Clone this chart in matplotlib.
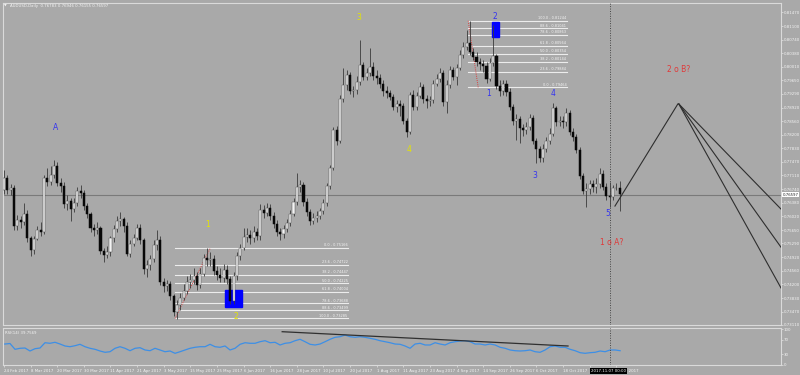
import numpy as np
import matplotlib.pyplot as plt
import matplotlib.transforms as mtransforms
from matplotlib.patches import Rectangle

# daily AUDUSD candles, 24 Feb 2017 .. 10 Nov 2017
first_open = 0.7672
closes = [
    0.7704, 0.7672, 0.7677, 0.7576, 0.7592, 0.7586, 0.7608, 0.7544, 0.7511, 0.7541,
    0.7565, 0.7560, 0.7704, 0.7693, 0.7712, 0.7736, 0.7691, 0.7683, 0.7634, 0.7642,
    0.7621, 0.7637, 0.7669, 0.7664, 0.7629, 0.7608, 0.7570, 0.7565, 0.7570, 0.7509,
    0.7498, 0.7506, 0.7544, 0.7568, 0.7589, 0.7594, 0.7576, 0.7501, 0.7528, 0.7544,
    0.7570, 0.7538, 0.7461, 0.7471, 0.7487, 0.7525, 0.7538, 0.7426, 0.7415, 0.7421,
    0.7389, 0.7346, 0.7364, 0.7383, 0.7402, 0.7426, 0.7431, 0.7442, 0.7418, 0.7447,
    0.7490, 0.7485, 0.7487, 0.7455, 0.7445, 0.7437, 0.7458, 0.7434, 0.7375, 0.7442,
    0.7495, 0.7517, 0.7546, 0.7552, 0.7544, 0.7560, 0.7549, 0.7618, 0.7610, 0.7624,
    0.7602, 0.7581, 0.7560, 0.7554, 0.7568, 0.7584, 0.7608, 0.7640, 0.7680, 0.7685,
    0.7640, 0.7613, 0.7589, 0.7597, 0.7602, 0.7616, 0.7637, 0.7683, 0.7731, 0.7832,
    0.7803, 0.7915, 0.7953, 0.7979, 0.7936, 0.7939, 0.7960, 0.8006, 0.7974, 0.7985,
    0.8001, 0.7977, 0.7971, 0.7955, 0.7936, 0.7931, 0.7920, 0.7894, 0.7902, 0.7896,
    0.7856, 0.7827, 0.7926, 0.7894, 0.7923, 0.7947, 0.7915, 0.7910, 0.7912, 0.7955,
    0.7969, 0.7985, 0.7907, 0.7953, 0.7993, 0.7974, 0.7998, 0.8033, 0.8054, 0.8065,
    0.8041, 0.8027, 0.8014, 0.8009, 0.8003, 0.7969, 0.8011, 0.8030, 0.7950, 0.7936,
    0.7955, 0.7934, 0.7894, 0.7856, 0.7862, 0.7838, 0.7832, 0.7840, 0.7864, 0.7803,
    0.7781, 0.7757, 0.7781, 0.7803, 0.7822, 0.7891, 0.7854, 0.7856, 0.7854, 0.7878,
    0.7827, 0.7814, 0.7779, 0.7709, 0.7669, 0.7674, 0.7688, 0.7680, 0.7688, 0.7715,
    0.7680, 0.7656, 0.7653, 0.7677, 0.7678, 0.7660,
]
highs = [
    0.7725, 0.7712, 0.7688, 0.7685, 0.7605, 0.7602, 0.7637, 0.7618, 0.7549, 0.7549,
    0.7576, 0.7586, 0.7712, 0.7730, 0.7736, 0.7752, 0.7747, 0.7704, 0.7693, 0.7658,
    0.7650, 0.7650, 0.7680, 0.7685, 0.7672, 0.7637, 0.7613, 0.7581, 0.7586, 0.7576,
    0.7517, 0.7522, 0.7549, 0.7578, 0.7602, 0.7613, 0.7600, 0.7586, 0.7538, 0.7554,
    0.7581, 0.7581, 0.7544, 0.7485, 0.7498, 0.7538, 0.7565, 0.7549, 0.7437, 0.7431,
    0.7429, 0.7394, 0.7378, 0.7396, 0.7421, 0.7442, 0.7447, 0.7463, 0.7453, 0.7463,
    0.7501, 0.7517, 0.7506, 0.7498, 0.7469, 0.7463, 0.7474, 0.7471, 0.7442, 0.7453,
    0.7506, 0.7527, 0.7570, 0.7570, 0.7565, 0.7576, 0.7570, 0.7634, 0.7632, 0.7637,
    0.7634, 0.7613, 0.7592, 0.7570, 0.7578, 0.7594, 0.7618, 0.7650, 0.7717, 0.7699,
    0.7693, 0.7650, 0.7621, 0.7610, 0.7616, 0.7624, 0.7648, 0.7691, 0.7739, 0.7840,
    0.7843, 0.7926, 0.7998, 0.7993, 0.7987, 0.7950, 0.7977, 0.8073, 0.8014, 0.7998,
    0.8051, 0.8014, 0.7993, 0.7982, 0.7966, 0.7950, 0.7939, 0.7928, 0.7912, 0.7912,
    0.7904, 0.7864, 0.7934, 0.7939, 0.7934, 0.7960, 0.7955, 0.7926, 0.7923, 0.7966,
    0.7982, 0.7998, 0.7993, 0.7966, 0.8003, 0.8001, 0.8009, 0.8046, 0.8067, 0.8100,
    0.8124, 0.8051, 0.8041, 0.8025, 0.8019, 0.8014, 0.8025, 0.8113, 0.8035, 0.7966,
    0.7966, 0.7966, 0.7944, 0.7902, 0.7875, 0.7870, 0.7848, 0.7853, 0.7875, 0.7872,
    0.7811, 0.7789, 0.7795, 0.7813, 0.7838, 0.7904, 0.7896, 0.7870, 0.7870, 0.7891,
    0.7886, 0.7838, 0.7822, 0.7787, 0.7717, 0.7691, 0.7699, 0.7699, 0.7704, 0.7730,
    0.7725, 0.7691, 0.7693, 0.7685, 0.7691, 0.7695,
]
lows = [
    0.7661, 0.7661, 0.7658, 0.7565, 0.7565, 0.7570, 0.7578, 0.7533, 0.7495, 0.7501,
    0.7538, 0.7549, 0.7554, 0.7683, 0.7685, 0.7704, 0.7683, 0.7666, 0.7624, 0.7618,
    0.7589, 0.7613, 0.7629, 0.7650, 0.7618, 0.7597, 0.7560, 0.7549, 0.7554, 0.7501,
    0.7479, 0.7490, 0.7495, 0.7533, 0.7560, 0.7576, 0.7560, 0.7495, 0.7493, 0.7522,
    0.7538, 0.7527, 0.7447, 0.7439, 0.7458, 0.7479, 0.7511, 0.7418, 0.7399, 0.7402,
    0.7378, 0.7335, 0.7328, 0.7351, 0.7378, 0.7394, 0.7410, 0.7421, 0.7405, 0.7410,
    0.7442, 0.7469, 0.7469, 0.7445, 0.7431, 0.7426, 0.7426, 0.7421, 0.7367, 0.7367,
    0.7431, 0.7485, 0.7511, 0.7533, 0.7527, 0.7533, 0.7538, 0.7538, 0.7597, 0.7602,
    0.7592, 0.7570, 0.7549, 0.7538, 0.7544, 0.7560, 0.7576, 0.7602, 0.7632, 0.7666,
    0.7629, 0.7602, 0.7578, 0.7581, 0.7586, 0.7594, 0.7608, 0.7629, 0.7674, 0.7725,
    0.7792, 0.7797, 0.7907, 0.7939, 0.7928, 0.7920, 0.7928, 0.7952, 0.7966, 0.7966,
    0.7977, 0.7966, 0.7955, 0.7944, 0.7923, 0.7918, 0.7912, 0.7886, 0.7880, 0.7870,
    0.7848, 0.7813, 0.7822, 0.7886, 0.7886, 0.7918, 0.7904, 0.7891, 0.7896, 0.7904,
    0.7950, 0.7960, 0.7896, 0.7878, 0.7944, 0.7966, 0.7952, 0.7993, 0.8025, 0.8046,
    0.8033, 0.8019, 0.8003, 0.7993, 0.7987, 0.7958, 0.7963, 0.8003, 0.7942, 0.7923,
    0.7926, 0.7923, 0.7886, 0.7845, 0.7806, 0.7797, 0.7816, 0.7822, 0.7832, 0.7795,
    0.7744, 0.7747, 0.7747, 0.7773, 0.7795, 0.7816, 0.7843, 0.7843, 0.7838, 0.7843,
    0.7819, 0.7803, 0.7771, 0.7701, 0.7661, 0.7626, 0.7661, 0.7666, 0.7664, 0.7677,
    0.7672, 0.7645, 0.7626, 0.7645, 0.7672, 0.7616,
]
bid = 0.76597

# RSI(14) read every ~1.5 bars
rsi = [
    58.3, 58.3, 59.7, 43.6, 46.4, 47.2, 38.9, 45.3, 47.2, 61.9, 60.3, 63.1, 58.3,
    52.8, 50.8, 53.6, 57.5, 50.8, 46.4, 43.6, 38.9, 35.3, 36.9, 46.4, 50.8, 46.4,
    39.7, 46.4, 48.1, 41.7, 39.7, 46.4, 41.7, 36.9, 38.9, 32.5, 36.9, 41.7, 46.4,
    49.2, 50.8, 50.8, 57.5, 50.8, 49.2, 52.8, 41.7, 46.4, 57.5, 61.9, 60.3, 60.3,
    64.7, 67.5, 61.9, 63.1, 55.6, 60.3, 61.9, 67.5, 71.4, 64.7, 57.5, 55.6, 58.3,
    64.7, 71.4, 76.9, 78.6, 83.3, 78.6, 76.9, 78.6, 76.9, 74.2, 71.4, 67.5, 64.7,
    61.9, 58.3, 57.5, 52.8, 46.4, 58.3, 60.3, 55.6, 55.6, 61.9, 58.3, 55.6, 61.9,
    64.7, 66.7, 67.5, 64.7, 58.3, 58.3, 55.6, 58.3, 55.6, 49.2, 46.4, 41.7, 39.7,
    38.9, 39.7, 41.7, 36.9, 35.3, 41.7, 50.8, 52.8, 49.2, 49.2, 43.6, 39.7, 34.2,
    32.5, 34.2, 35.3, 38.9, 36.9, 41.7, 41.7, 39.7,
]
rsi_trend_x = [83.6, 169.5]
rsi_trend_y = [92.5, 52.8]

price_ticks = [0.81470, 0.81100, 0.80740, 0.80380, 0.80010, 0.79650, 0.79290, 0.78920,
               0.78560, 0.78200, 0.77830, 0.77470, 0.77110, 0.76740, 0.76380, 0.76020,
               0.75650, 0.75290, 0.74920, 0.74560, 0.74200, 0.73830, 0.73470, 0.73110]
date_labels = ['24 Feb 2017', '8 Mar 2017', '20 Mar 2017', '30 Mar 2017', '11 Apr 2017',
               '21 Apr 2017', '3 May 2017', '15 May 2017', '25 May 2017', '6 Jun 2017',
               '16 Jun 2017', '28 Jun 2017', '10 Jul 2017', '20 Jul 2017', '1 Aug 2017',
               '11 Aug 2017', '23 Aug 2017', '4 Sep 2017', '14 Sep 2017', '26 Sep 2017',
               '6 Oct 2017', '18 Oct 2017', '30 Oct 2017', '9 Nov 2017']

fib_ratios = [0.0, 23.6, 38.2, 50.0, 61.8, 78.6, 88.6, 100.0]
fib_up = (0.79464, 0.81244)    # (0 level, 100 level)
fib_low = (0.75166, 0.73285)

# elliott wave labels: (bar, price, text, colour)
wave_labels = [
    (15.6, 0.7838, 'A', 'blue'), (61.3, 0.7581, '1', 'yellow'), (69.7, 0.7335, '2', 'yellow'),
    (106.7, 0.8134, '3', 'yellow'), (121.7, 0.7781, '4', 'yellow'), (147.6, 0.8137, '2', 'blue'),
    (145.5, 0.7931, '1', 'blue'), (159.6, 0.7712, '3', 'blue'), (165.0, 0.7931, '4', 'blue'),
    (181.5, 0.7610, '5', 'blue'), (182.6, 0.7531, '1 o A?', 'red'), (202.6, 0.7995, '2 o B?', 'red'),
]
# projected path after the last bar
proj_x = [183.6, 202.5]
proj_y = [0.7629, 0.7902]
ray_ends = [0.7621, 0.7519, 0.7410]

BG = '#a9a9a9'
FG = '#f4f4f4'
SMALL = 2.8
cols = {'blue': '#3434f0', 'yellow': '#e4e400', 'red': '#e03a3a'}

fig = plt.figure(figsize=(8, 3.75), dpi=100, facecolor=BG)
ax = fig.add_axes([3/800, 50/375, 778/800, 322/375], facecolor=BG)
ax2 = fig.add_axes([3/800, 10/375, 778/800, 37/375], facecolor=BG)

n = len(closes)
x = np.arange(n)
c = np.array(closes)
o = np.array([first_open] + closes[:-1])
h = np.array(highs)
l = np.array(lows)
up = c >= o

# fib retracements
for (p0, p100), (xa, xb), (ra, rb), lx in [(fib_up, (139.5, 169.2), (139.5, 142.5), 169.0),
                                          (fib_low, (51.4, 103.5), (51.4, 62.0), 103.3)]:
    for r in fib_ratios:
        p = p0 + (p100 - p0) * r / 100
        ax.plot([xa, xb], [p, p], color='#ececec', lw=0.8, zorder=1)
        ax.text(lx, p + 0.0002, '%.1f - %.5f' % (r, p), fontsize=2.5, color=FG,
                ha='right', va='bottom', zorder=2)
    ax.plot([ra, rb], [p100, p0], color='#d84040', lw=0.7, ls=(0, (1, 1.2)), zorder=2)

ax.add_patch(Rectangle((66.4, 0.7359), 5.1, 0.0046, color='#0000ff', zorder=2))
ax.add_patch(Rectangle((146.7, 0.8081), 2.1, 0.0040, color='#0000ff', zorder=2))

ax.axhline(bid, color='#7a7a7a', lw=0.8, zorder=1)

ax.vlines(x, l, h, color='#3a3a3a', lw=0.6, zorder=3)
body_b = np.minimum(o, c)
body_h = np.maximum(np.abs(c - o), 0.00008)
ax.bar(x[up], body_h[up], bottom=body_b[up], width=0.62, color='#f4f4f4',
       edgecolor='#505050', lw=0.35, zorder=4)
ax.bar(x[~up], body_h[~up], bottom=body_b[~up], width=0.62, color='#080808',
       edgecolor='#080808', lw=0.35, zorder=4)

for bx, py, txt, cc in wave_labels:
    ax.text(bx, py, txt, color=cols[cc], fontsize=5.5, ha='center', va='center', zorder=6)

ax.plot(proj_x, proj_y, color='#2e2e2e', lw=0.8, zorder=5)
for pe in ray_ends:
    ax.plot([202.8, 233.5], [proj_y[1], pe], color='#2e2e2e', lw=0.8, zorder=5)

for a in (ax, ax2):
    a.axvline(182, color='#454545', lw=0.7, ls=(0, (1, 1.5)), zorder=5)
    a.set_xlim(-0.3, 233.5)
    for s in a.spines.values():
        s.set_color('#dadada')
        s.set_linewidth(0.8)

ax.set_ylim(0.7311, 0.8172)
ax.yaxis.tick_right()
ax.set_yticks(price_ticks)
ax.set_yticklabels(['%.5f' % t for t in price_ticks])
ax.tick_params(axis='y', length=1.5, width=0.6, color='#dadada', labelcolor=FG,
               labelsize=SMALL, pad=0.6)
ax.set_xticks([])

tr = mtransforms.blended_transform_factory(ax.transAxes, ax.transData)
ax.text(1.002, bid, '%.5f' % bid, transform=tr, fontsize=SMALL, color='#202020', ha='left',
        va='center', bbox=dict(boxstyle='square,pad=0.15', fc='white', ec='none'), zorder=7)

# RSI window
rsi_x = (np.arange(len(rsi)) * 5 - 4) / 3.327
ax2.plot(rsi_x, rsi, color='#3d8fe6', lw=0.9)
ax2.plot(rsi_trend_x, rsi_trend_y, color='#303030', lw=0.9)
ax2.set_ylim(0, 102.8)
ax2.yaxis.tick_right()
ax2.set_yticks([0, 30, 70, 100])
ax2.set_yticklabels(['0', '30', '70', '100'])
ax2.tick_params(axis='y', length=1.5, width=0.6, color='#dadada', labelcolor=FG,
                labelsize=SMALL, pad=0.6)
ax2.set_xticks(np.arange(len(date_labels)) * 8)
ax2.set_xticklabels(date_labels)
for lb in ax2.get_xticklabels():
    lb.set_ha('left')
ax2.tick_params(axis='x', length=1.5, width=0.6, color='#dadada', labelcolor=FG,
                labelsize=SMALL, pad=1.5)
ax2.text(0.003, 0.93, 'RSI(14) 39.7569', transform=ax2.transAxes, fontsize=SMALL, color=FG,
         ha='left', va='top')

trx = mtransforms.blended_transform_factory(ax2.transData, ax2.transAxes)
ax2.text(181.8, -0.15, '2017.11.07 00:00', transform=trx, fontsize=SMALL, color='white',
         ha='center', va='center', bbox=dict(boxstyle='square,pad=0.25', fc='black', ec='none'),
         zorder=8, clip_on=False)

fig.text(4/800, 1 - 5.5/375, '\u25bc', fontsize=2.5, color=FG, va='center')
fig.text(10/800, 1 - 5.5/375, 'AUDUSD,Daily  0.76783 0.76946 0.76155 0.76597', fontsize=SMALL,
         color=FG, va='center')

fig.savefig('out.png', dpi=100, facecolor=BG)
